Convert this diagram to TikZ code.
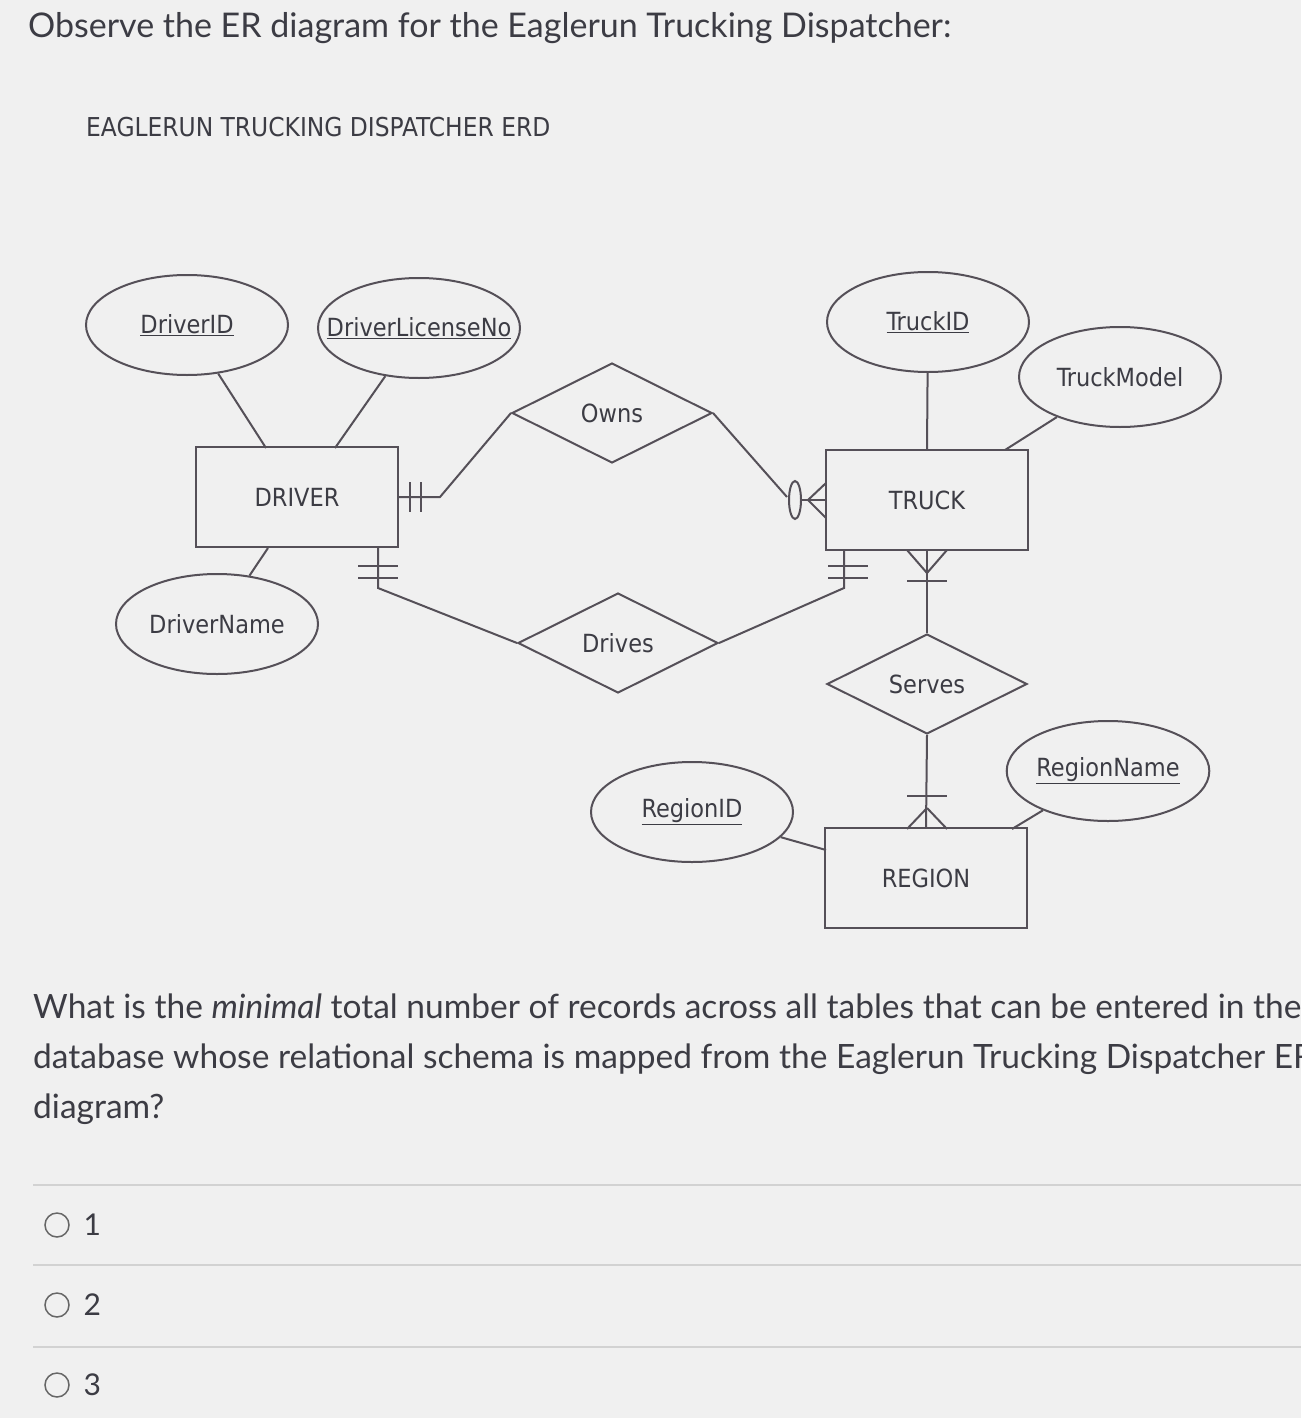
\documentclass[tikz,border=0pt]{standalone}
\usepackage{fontspec}
\setmainfont{Lato}
\newfontfamily\dia{DejaVu Sans Condensed}
\usetikzlibrary{shapes.geometric}
\definecolor{ln}{HTML}{555058}
\definecolor{tx}{HTML}{3C3C44}
\begin{document}
\begin{tikzpicture}[x=1pt,y=-1pt,
  lab/.style={font=\dia\fontsize{25}{28}\selectfont,text=tx,inner sep=0pt},
  ent/.style={draw=ln,line width=2pt,fill=none,minimum width=202pt,minimum height=100pt,lab},
  attr/.style={draw=ln,line width=2pt,ellipse,minimum width=202pt,minimum height=100pt,lab},
  rel/.style={draw=ln,line width=2pt,diamond,aspect=2,minimum width=200pt,minimum height=100pt,lab},
  cn/.style={draw=ln,line width=2pt}]
\useasboundingbox (0,0) rectangle (1301,1418);
\fill[gray!12] (0,0) rectangle (1301,1418);
\node[anchor=base west,font=\fontsize{34}{40}\selectfont,text=tx,inner sep=0pt] (title) at (28,38) {Observe the ER diagram for the Eaglerun Trucking Dispatcher:};
\node[anchor=base west,font=\dia\fontsize{26}{30}\selectfont,text=tx,inner sep=0pt] (erd) at (86,136) {EAGLERUN TRUCKING DISPATCHER ERD};
% entities
\node[ent] (driver) at (297,497) {DRIVER};
\node[ent] (truck) at (927,500) {TRUCK};
\node[ent] (region) at (926,878) {REGION};
% attributes
\node[attr] (did) at (187,325) {\underline{DriverID}};
\node[attr] (dln) at (419,328) {\makebox[0pt]{\underline{DriverLicenseNo}}};
\node[attr] (dname) at (217,624) {DriverName};
\node[attr] (tid) at (928,322) {\underline{TruckID}};
\node[attr] (tmodel) at (1120,377) {TruckModel};
\node[attr] (rid) at (692,812) {\underline{RegionID}};
\node[attr] (rname) at (1108,771) {\underline{RegionName}};
% relationships
\node[rel] (owns) at (612,413) {Owns};
\node[rel] (drives) at (618,643) {Drives};
\node[rel] (serves) at (927,684) {Serves};
% attribute links
\draw[cn] (did) -- (266,448);
\draw[cn] (dln) -- (335,448);
\draw[cn] (dname) -- (268,548);
\draw[cn] (tid) -- (truck.north);
\draw[cn] (tmodel) -- (1005,450);
\draw[cn] (rid) -- (826,850);
\draw[cn] (rname) -- (1012,829);
% Owns
\coordinate (o1) at (440,497);
\draw[cn] (driver.east) -- (o1) -- (owns.west);
\draw[cn] (410,482) -- (410,512) (421,482) -- (421,512);
\coordinate (o2) at (787,497);
\draw[cn] (owns.east) -- (o2);
\draw[cn] (795,500) ellipse (6 and 19);
\draw[cn] (801,500) -- (truck.west);
\draw[cn] (808,500) -- (826,483) (808,500) -- (826,518);
% Drives
\coordinate (d1) at (378,588);
\draw[cn] (378,547) -- (d1) -- (drives.west);
\draw[cn] (358,566) -- (398,566) (358,578) -- (398,578);
\coordinate (d2) at (844,588);
\draw[cn] (844,550) -- (d2) -- (drives.east);
\draw[cn] (828,566) -- (868,566) (828,578) -- (868,578);
% Serves
\draw[cn] (927,550) -- (serves.north);
\draw[cn] (927,573) -- (907,550) (927,573) -- (947,550);
\draw[cn] (907,581) -- (947,581);
\draw[cn] (serves.south) -- (region.north);
\draw[cn] (907,796) -- (947,796);
\draw[cn] (927,808) -- (907,829) (927,808) -- (947,829);
% question
\node[anchor=base west,font=\fontsize{33.5}{40}\selectfont,text=tx,inner sep=0pt] (q1) at (33,1018) {What is the \textit{minimal} total number of records across all tables that can be entered in the};
\node[anchor=base west,font=\fontsize{33.5}{40}\selectfont,text=tx,inner sep=0pt] (q2) at (33,1068) {database whose relational schema is mapped from the Eaglerun Trucking Dispatcher ER};
\node[anchor=base west,font=\fontsize{33.5}{40}\selectfont,text=tx,inner sep=0pt] (q3) at (33,1118) {diagram?};
\foreach \y in {1185,1265,1347} \draw[gray!35,line width=1.5pt] (33,\y) -- (1301,\y);
\foreach \y/\t in {1225/1,1305/2,1385/3}{
  \draw[gray!80!black,line width=1.5pt] (57,\y) circle (12);
  \node[anchor=west,font=\fontsize{30}{34}\selectfont,text=tx] at (80,\y) {\t};}
\end{tikzpicture}
\end{document}
